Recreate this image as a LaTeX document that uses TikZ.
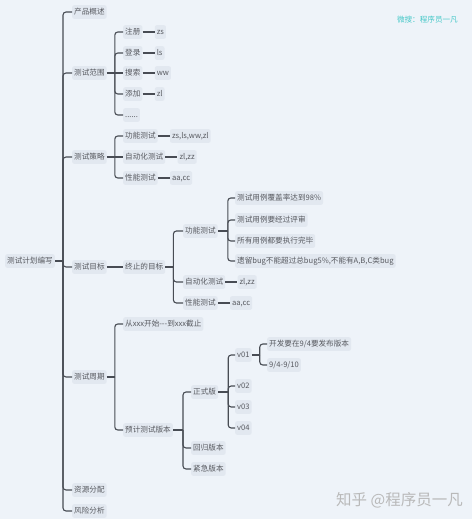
\documentclass[tikz,border=0pt]{standalone}
\usepackage{fontspec}
\usepackage{xcolor}
\usepackage{tikz}
\usetikzlibrary{positioning}
\newfontfamily\cjk{Noto Sans CJK SC}
\definecolor{paper}{RGB}{238,243,249}
\definecolor{boxgray}{RGB}{226,232,240}
\definecolor{linegray}{RGB}{72,76,84}
\definecolor{textgray}{RGB}{88,90,96}
\definecolor{markteal}{RGB}{70,200,200}

\begin{document}
\begin{tikzpicture}[x=1pt, y=-1pt,
    % Node styles
    topic/.style={fill=boxgray, rounded corners=2pt, anchor=west, inner xsep=2pt, inner ysep=3pt,
        text height=6pt, text depth=1.6pt, text=textgray, font=\cjk\fontsize{7.6}{9}\selectfont},
    watermark/.style={anchor=east, inner sep=1pt},
    % Edge styles
    edge/.style={draw=linegray, line width=1.1pt, rounded corners=3pt}
]

% Canvas
\useasboundingbox (0,0) rectangle (474,522);
\fill[paper] (0,0) rectangle (472,519);

% Root
\node[topic] (plan) at (5,261) {测试计划编写};

% Level 1
\node[topic] (prod) at (72,12) {产品概述};
\node[topic] (scope) at (72,73) {测试范围};
\node[topic] (strat) at (72,157) {测试策略};
\node[topic] (goal) at (72,267) {测试目标};
\node[topic] (cycle) at (72,377) {测试周期};
\node[topic] (res) at (72,490) {资源分配};
\node[topic] (risk) at (72,511) {风险分析};

% Level 2 - Scope
\node[topic] (reg) at (123,32) {注册};
\node[topic] (login) at (123,53) {登录};
\node[topic] (search) at (123,73) {搜索};
\node[topic] (add) at (123,94) {添加};
\node[topic] (more) at (123,115) {......};
\node[topic, right=12pt of reg] (zs) {zs};
\node[topic, right=12pt of login] (ls) {ls};
\node[topic, right=12pt of search] (ww) {ww};
\node[topic, right=12pt of add] (zl) {zl};

% Level 2 - Strategy
\node[topic] (sfunc) at (123,136) {功能测试};
\node[topic] (sauto) at (123,157) {自动化测试};
\node[topic] (sperf) at (123,178) {性能测试};
\node[topic, right=12pt of sfunc] (sfuncw) {zs,ls,ww,zl};
\node[topic, right=12pt of sauto] (sautow) {zl,zz};
\node[topic, right=12pt of sperf] (sperfw) {aa,cc};

% Level 2 - Goal
\node[topic] (stop) at (123,267) {终止的目标};
\node[topic] (gfunc) at (183,231) {功能测试};
\node[topic] (gauto) at (183,282) {自动化测试};
\node[topic] (gperf) at (183,303) {性能测试};
\node[topic, right=12pt of gauto] (gautow) {zl,zz};
\node[topic, right=12pt of gperf] (gperfw) {aa,cc};

% Level 3 - From gfunc
\node[topic] (cov) at (235,198) {测试用例覆盖率达到98\%};
\node[topic] (review) at (235,220) {测试用例要经过评审};
\node[topic] (runall) at (235,241) {所有用例都要执行完毕};
\node[topic] (remain) at (235,261) {遗留bug不能超过总bug5\%,不能有A,B,C类bug};

% Level 2 - Cycle
\node[topic] (span) at (123,324) {从xxx开始{-}{-}{-}到xxx截止};
\node[topic] (ver) at (123,430) {预计测试版本};
\node[topic] (formal) at (191,392) {正式版};
\node[topic] (regr) at (191,448) {回归版本};
\node[topic] (urgent) at (191,469) {紧急版本};

% Level 3 - From formal
\node[topic] (v01) at (235,355) {v01};
\node[topic] (v02) at (235,386) {v02};
\node[topic] (v03) at (235,407) {v03};
\node[topic] (v04) at (235,428) {v04};
\node[topic] (dev) at (267,344) {开发要在9/4要发布版本};
\node[topic] (dates) at (267,365) {9/4-9/10};

% Watermarks
\node[watermark, text=markteal, font=\cjk\fontsize{7.6}{9}\selectfont] (wechat) at (459,20) {微搜：程序员一凡};
\node[watermark, text=gray!55, font=\cjk\fontsize{15.5}{18}\selectfont] (zhihu) at (464,500) {知乎 @程序员一凡};

% Draw all edges
\draw[edge] (plan.east) -- ++(8,0) coordinate (planS);
\draw[edge] (planS) |- (prod.west);
\draw[edge] (planS) |- (scope.west);
\draw[edge] (planS) |- (strat.west);
\draw[edge] (planS) |- (goal.west);
\draw[edge] (planS) |- (cycle.west);
\draw[edge] (planS) |- (res.west);
\draw[edge] (planS) |- (risk.west);

\draw[edge] (scope.east) -- ++(8,0) coordinate (scopeS);
\draw[edge] (scopeS) |- (reg.west);
\draw[edge] (scopeS) |- (login.west);
\draw[edge] (scopeS) -- (search.west);
\draw[edge] (scopeS) |- (add.west);
\draw[edge] (scopeS) |- (more.west);
\draw[edge] (reg) -- (zs);
\draw[edge] (login) -- (ls);
\draw[edge] (search) -- (ww);
\draw[edge] (add) -- (zl);

\draw[edge] (strat.east) -- ++(8,0) coordinate (stratS);
\draw[edge] (stratS) |- (sfunc.west);
\draw[edge] (stratS) -- (sauto.west);
\draw[edge] (stratS) |- (sperf.west);
\draw[edge] (sfunc) -- (sfuncw);
\draw[edge] (sauto) -- (sautow);
\draw[edge] (sperf) -- (sperfw);

\draw[edge] (goal) -- (stop);
\draw[edge] (stop.east) -- ++(8,0) coordinate (stopS);
\draw[edge] (stopS) |- (gfunc.west);
\draw[edge] (stopS) |- (gauto.west);
\draw[edge] (stopS) |- (gperf.west);
\draw[edge] (gauto) -- (gautow);
\draw[edge] (gperf) -- (gperfw);

\draw[edge] (gfunc.east) -- ++(10,0) coordinate (gfuncS);
\draw[edge] (gfuncS) |- (cov.west);
\draw[edge] (gfuncS) |- (review.west);
\draw[edge] (gfuncS) |- (runall.west);
\draw[edge] (gfuncS) |- (remain.west);

\draw[edge] (cycle.east) -- ++(8,0) coordinate (cycleS);
\draw[edge] (cycleS) |- (span.west);
\draw[edge] (cycleS) |- (ver.west);

\draw[edge] (ver.east) -- ++(10,0) coordinate (verS);
\draw[edge] (verS) |- (formal.west);
\draw[edge] (verS) |- (regr.west);
\draw[edge] (verS) |- (urgent.west);

\draw[edge] (formal.east) -- ++(10,0) coordinate (formalS);
\draw[edge] (formalS) |- (v01.west);
\draw[edge] (formalS) |- (v02.west);
\draw[edge] (formalS) |- (v03.west);
\draw[edge] (formalS) |- (v04.west);

\draw[edge] (v01.east) -- ++(8,0) coordinate (v01S);
\draw[edge] (v01S) |- (dev.west);
\draw[edge] (v01S) |- (dates.west);

\end{tikzpicture}
\end{document}
